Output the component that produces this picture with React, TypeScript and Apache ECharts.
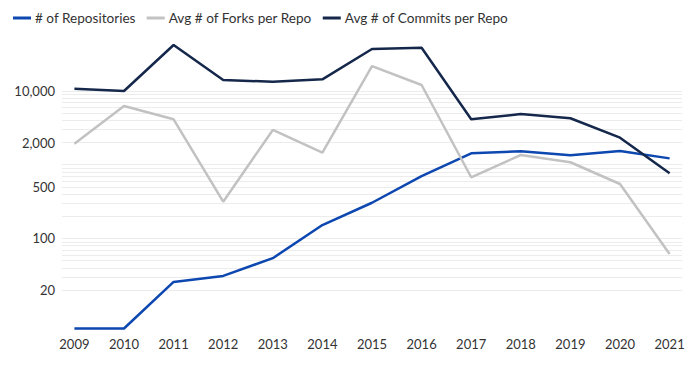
import React, { useEffect, useRef } from "react";
import * as echarts from "echarts";

const years = [2009, 2010, 2011, 2012, 2013, 2014, 2015, 2016, 2017, 2018, 2019, 2020, 2021];
const repositories = [6, 6, 25.7, 31, 54, 152, 305, 700, 1430, 1520, 1340, 1535, 1220];
const forksPerRepo = [1930, 6270, 4130, 315, 2960, 1455, 21800, 12060, 676, 1355, 1080, 548, 61.5];
const commitsPerRepo = [10740, 10000, 42100, 14100, 13370, 14400, 37100, 38600, 4130, 4870, 4270, 2330, 766];
const yTickLabels = [20, 100, 500, 2000, 10000];
const gridValues = [
  20, 30, 40, 50, 60, 70, 80, 90,
  100, 200, 300, 400, 500, 600, 700, 800, 900,
  1000, 2000, 3000, 4000, 5000, 6000, 7000, 8000, 9000,
  10000,
];
const seriesNames = ["# of Repositories", "Avg # of Forks per Repo", "Avg # of Commits per Repo"];
const colors = ["#0d47b0", "#c2c2c2", "#15284b"];

export default function App() {
  const ref = useRef<HTMLDivElement>(null);
  useEffect(() => {
    if (!ref.current) return;
    const chart = echarts.init(ref.current, null, { renderer: "svg" });
    const font = "Lato, 'Noto Sans', sans-serif";
    const mk = (name: string, vals: number[], color: string) => ({
      name,
      type: "line",
      data: vals.map((v, i) => [years[i], v]),
      showSymbol: false,
      symbol: "none",
      lineStyle: { color, width: 2.5 },
      itemStyle: { color },
      z: 3,
    });
    chart.setOption({
      animation: false,
      color: colors,
      textStyle: { fontFamily: font },
      legend: {
        left: 8,
        top: 6,
        icon: "rect",
        itemWidth: 18,
        itemHeight: 3,
        itemGap: 11,
        textStyle: { fontFamily: font, fontSize: 13.6, color: "#333", padding: [0, 0, 0, -1] },
        data: seriesNames,
      },
      grid: { left: 62, right: 18, top: 40, height: 290 },
      xAxis: {
        type: "value",
        min: 2008.75,
        max: 2021.25,
        axisLine: { show: false },
        axisTick: { show: false },
        splitLine: { show: false },
        axisLabel: {
          customValues: years,
          formatter: (v: number) => String(v),
          color: "#333",
          fontSize: 13,
          fontFamily: font,
          margin: 7,
        },
      },
      yAxis: {
        type: "log",
        logBase: 10,
        min: 5.73,
        max: 49200,
        axisLine: { show: false },
        axisTick: { show: false, customValues: gridValues },
        splitLine: { show: true, lineStyle: { color: "#ececec", width: 1 } },
        axisLabel: {
          customValues: yTickLabels,
          formatter: (v: number) => Math.round(v).toLocaleString("en-US"),
          color: "#333",
          fontSize: 13,
          fontFamily: font,
          margin: 7,
        },
      },
      series: [
        mk(seriesNames[0], repositories, colors[0]),
        mk(seriesNames[1], forksPerRepo, colors[1]),
        mk(seriesNames[2], commitsPerRepo, colors[2]),
      ],
    });
    return () => chart.dispose();
  }, []);
  return <div ref={ref} style={{ width: 700, height: 370, margin: -8 }} />;
}
